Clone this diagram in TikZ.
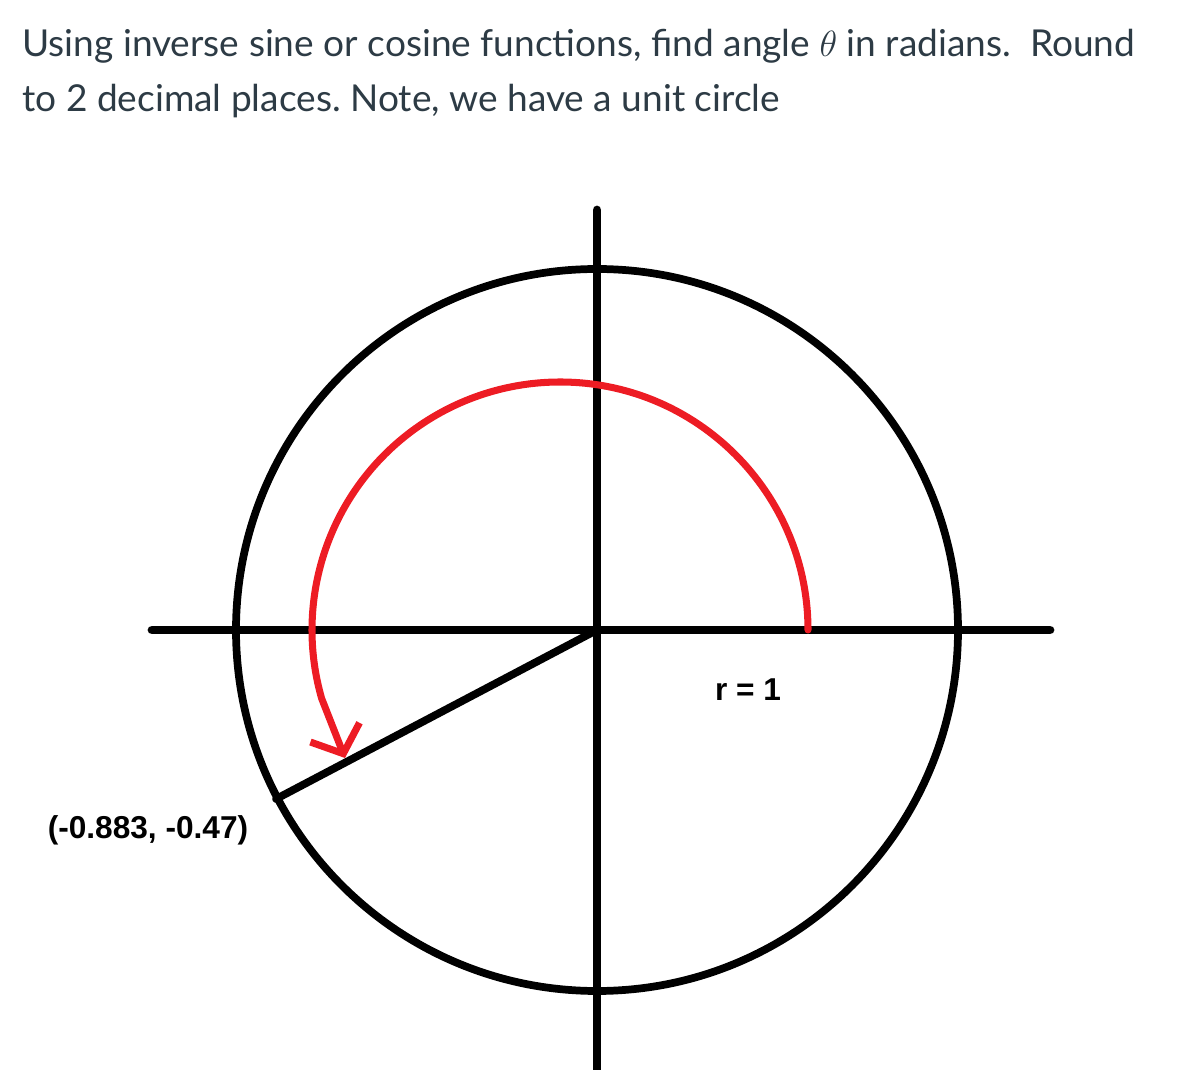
\documentclass[tikz,border=0pt]{standalone}
\usepackage{fontspec}
\setmainfont{Lato}
\newfontfamily\labelfont{Liberation Sans}
\usetikzlibrary{arrows.meta,calc}
\definecolor{paintred}{RGB}{237,28,36}
\definecolor{canvastext}{RGB}{45,59,69}
\tikzstyle{axis} = [line width=5pt, line cap=round, color=black]
\tikzstyle{rim} = [line width=4.4pt, color=black]
\tikzstyle{sweep} = [line width=4pt, line cap=round, color=paintred, -{Straight Barb[length=13pt,width=30pt,line width=4pt]}]
\tikzstyle{question} = [anchor=base west, inner sep=0pt, text=canvastext, font=\fontsize{21.1}{26}\selectfont]
\tikzstyle{lbl} = [inner sep=0pt, font=\labelfont\bfseries\fontsize{18}{22}\selectfont]
\frenchspacing

\begin{document}
\begin{tikzpicture}[x=0.02cm, y=-0.02cm]
    \useasboundingbox (0,0) rectangle (1184,1070);

    % Question
    \node[question] (q1) at (22,57) {Using inverse sine or cosine functions, find angle $\theta$ in radians.\ \ Round};
    \node[question] (q2) at (22,112) {to 2 decimal places. Note, we have a unit circle};

    % Axes
    \coordinate (O) at (597,630);
    \coordinate (xl) at (152,630);
    \coordinate (xr) at (1050,630);
    \coordinate (yt) at (597,210);
    \coordinate (yb) at (597,1075);
    \draw[axis] (xl) -- (xr);
    \draw[axis] (yt) -- (yb);

    % Unit circle
    \draw[rim] (O) circle[radius=361];

    % Radius to the point
    \coordinate (P) at (276,799);
    \draw[rim, line cap=round] (O) -- (P);

    % Angle theta
    \coordinate (A) at (808,630);
    \coordinate (tip) at (345,758);
    \draw[sweep] (A) arc[start angle=0, end angle=-196, radius=248] -- (tip);

    % Labels
    \node[lbl] (ptlabel) at (148,830) {(-0.883, -0.47)};
    \node[lbl] (rlabel) at (748,690) {r = 1};
\end{tikzpicture}
\end{document}
